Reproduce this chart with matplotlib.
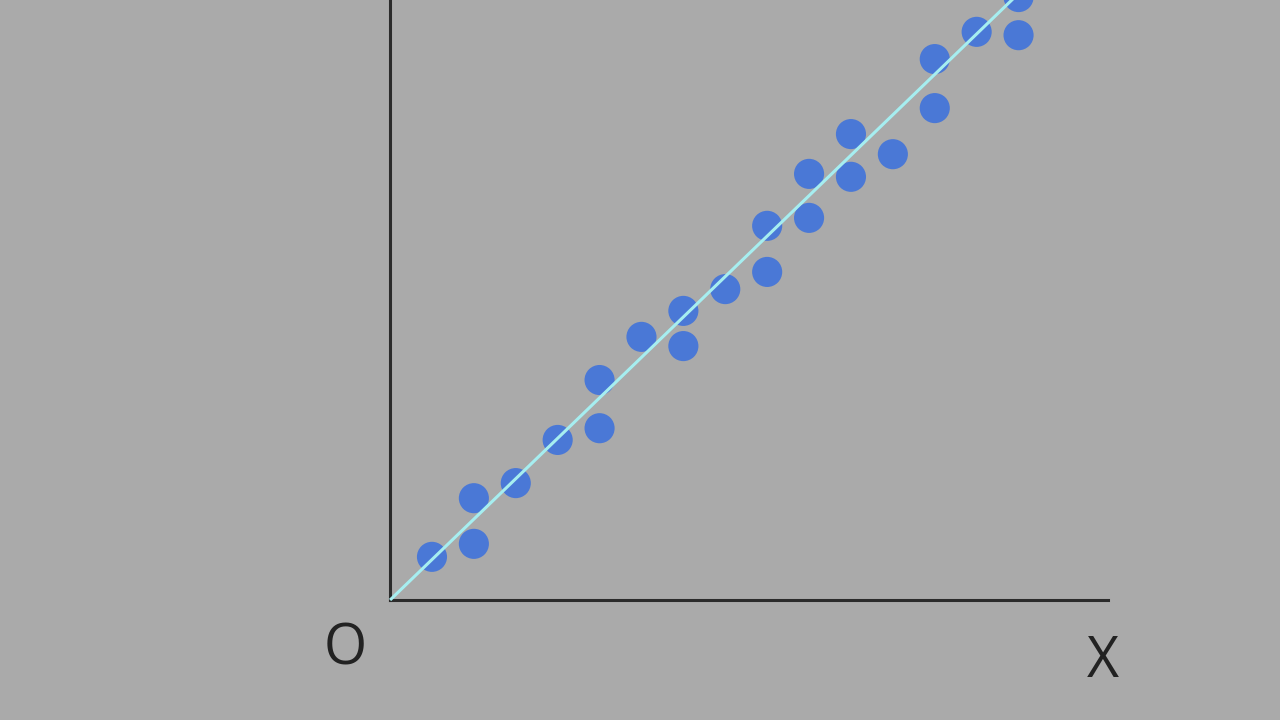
import matplotlib.pyplot as plt
import numpy as np

# точки данных (x - номер, y - значение)
x_vals = [1, 2, 2, 3, 4, 5, 5, 6, 7, 7, 8, 9, 9, 10, 10, 11, 11, 12, 13, 13, 14, 15, 15]
y_vals = [1.03, 2.43, 1.34, 2.79, 3.82, 5.25, 4.10, 6.28, 6.90, 6.06, 7.42, 8.93, 7.83,
          10.17, 9.12, 11.12, 10.10, 10.64, 12.91, 11.74, 13.56, 13.48, 14.39]
slope = 0.965   # линия регрессии через начало координат
x_end = 17.14   # длина оси X

bg = '#aaaaaa'
fig = plt.figure(figsize=(12.8, 7.2), dpi=100, facecolor=bg)
ax = fig.add_axes([0, 0, 1, 1], facecolor=bg)
ax.set_xlim(-9.31, 21.24)
ax.set_ylim(-2.864, 14.32)

# оси через ноль
for side in ['top', 'right']:
    ax.spines[side].set_visible(False)
ax.spines['left'].set_position(('data', 0))
ax.spines['bottom'].set_position(('data', 0))
ax.spines['left'].set_bounds(0, 14.32)
ax.spines['bottom'].set_bounds(0, x_end)
for side in ['left', 'bottom']:
    ax.spines[side].set_color('#2b2b2b')
    ax.spines[side].set_linewidth(2.2)
ax.set_xticks([])
ax.set_yticks([])

ax.scatter(x_vals, y_vals, s=470, color='#4a78d6', edgecolors='none', zorder=3)
xs = np.array([0, 16])
ax.plot(xs, slope * xs, color='#a6eef0', linewidth=2.2, zorder=4, solid_capstyle='butt')

ax.text(-1.07, -1.19, 'O', fontsize=40, family='Open Sans', color='#222222',
        ha='center', va='center')
ax.text(17.02, -1.50, 'X', fontsize=40, family='Open Sans', color='#222222',
        ha='center', va='center')

fig.savefig('out.png', dpi=100, facecolor=bg)
